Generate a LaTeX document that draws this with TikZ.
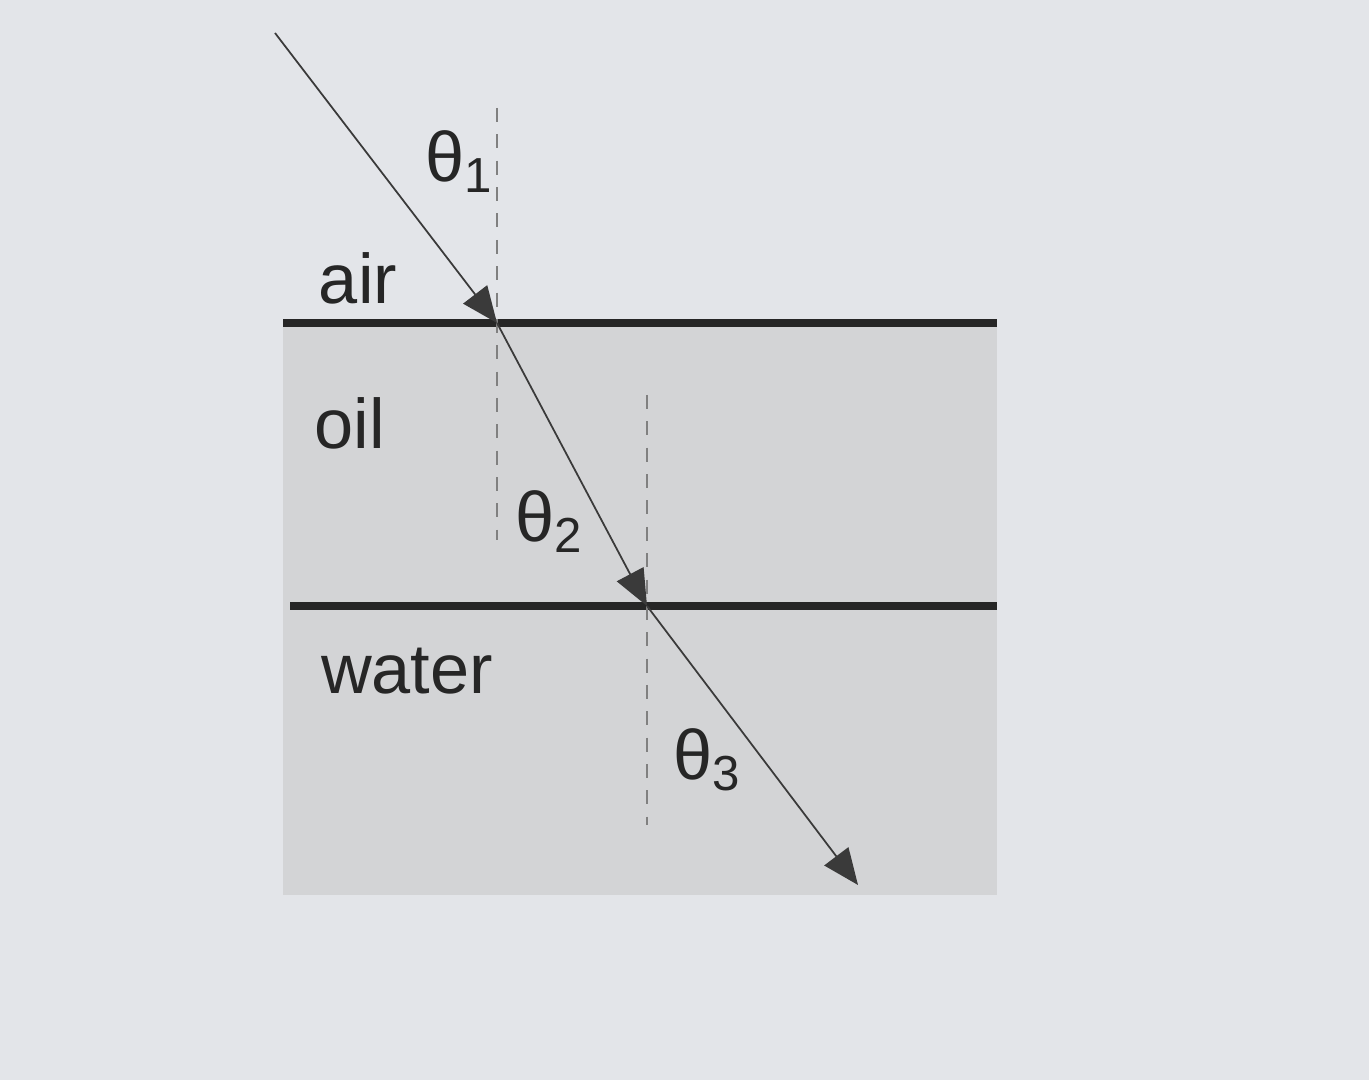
\documentclass[tikz,border=0pt]{standalone}
\usepackage{fontspec}
\setmainfont{Liberation Sans}
\usetikzlibrary{arrows.meta}
\definecolor{paper}{HTML}{E3E5E9}
\definecolor{slab}{HTML}{D3D4D6}
\definecolor{raygray}{HTML}{3A3A3A}
\tikzset{
	ray/.style={raygray,line width=0.5pt,-{Triangle[length=0.36cm,width=0.3cm]}},
	normal/.style={gray,line width=0.4pt,dash pattern=on 4pt off 3.5pt},
	boundary/.style={black!85,line width=2.2pt},
	medium/.style={font=\fontsize{20}{24}\selectfont,black!85},
	angle/.style={font=\fontsize{20}{24}\selectfont,black!85}
}
\begin{document}
\begin{tikzpicture}
	\fill[paper] (0,0) rectangle (13.69,10.8);
	\useasboundingbox (0,0) rectangle (13.69,10.8);

% media
	\fill[slab] (2.83,1.85) rectangle (9.97,7.55);
	\draw[boundary] (2.83,7.57) -- (9.97,7.57);
	\draw[boundary] (2.90,4.74) -- (9.97,4.74);

	\node[medium] (air) at (3.58,8.02) {air};
	\node[medium] (oil) at (3.50,6.57) {oil};
	\node[medium] (water) at (4.07,4.09) {water};

	% ray points
	\coordinate (src) at (2.75,10.47);
	\coordinate (hit1) at (4.97,7.57);
	\coordinate (hit2) at (6.47,4.74);
	\coordinate (out) at (8.58,1.95);

	% normals
	\coordinate (n1top) at (4.97,9.72);
	\coordinate (n1bot) at (4.97,5.40);
	\coordinate (n2top) at (6.47,6.85);
	\coordinate (n2bot) at (6.47,2.55);
	\draw[normal] (n1top) -- (n1bot);
	\draw[normal] (n2top) -- (n2bot);

	% ray
	\draw[ray] (src) -- (hit1);
	\draw[ray] (hit1) -- (hit2);
	\draw[ray] (hit2) -- (out);

	% angles
	\node[angle] (t1) at (4.60,9.18) {θ\textsubscript{1}};
	\node[angle] (t2) at (5.50,5.58) {θ\textsubscript{2}};
	\node[angle] (t3) at (7.08,3.20) {θ\textsubscript{3}};
\end{tikzpicture}
\end{document}
